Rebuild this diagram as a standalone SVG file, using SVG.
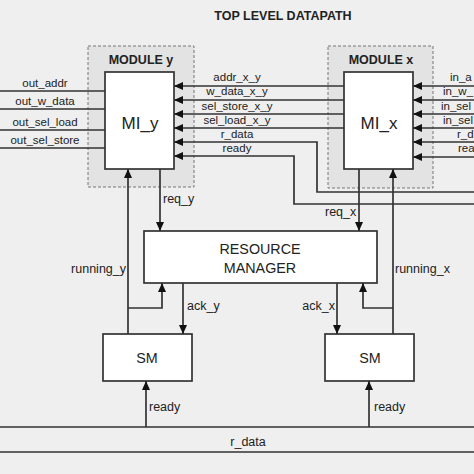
<svg xmlns="http://www.w3.org/2000/svg" width="474" height="474" viewBox="0 0 474 474">
<style>
text{font-family:"Liberation Sans",Arial,sans-serif;fill:#222}
.t{font-size:12.5px;font-weight:bold;text-anchor:middle}
.s{font-size:11.5px;text-anchor:middle}
.r{font-size:11.5px}
.l{font-size:12.5px}
.big{font-size:17px;text-anchor:middle}
.rm{font-size:14.3px;text-anchor:middle}
.box{fill:#fff;stroke:#333;stroke-width:1.7}
.mod{fill:#e3e3e3;stroke:#777;stroke-width:1;stroke-dasharray:3,2}
.w{fill:none;stroke:#333;stroke-width:1.7}
.a{marker-end:url(#ah)}
</style>
<defs>
<marker id="ah" markerUnits="userSpaceOnUse" markerWidth="9" markerHeight="8" refX="9" refY="4" orient="auto">
<path d="M0,0 L9,4 L0,8 z" fill="#111"/>
</marker>
</defs>
<rect width="474" height="474" fill="#efefef"/>
<text class="t" x="283" y="20">TOP LEVEL DATAPATH</text>

<g id="module-y">
<rect class="mod" x="88" y="46" width="106" height="141"/>
<text class="t" x="141" y="64">MODULE y</text>
<g id="mi-y"><rect class="box" x="105" y="72" width="69" height="97"/><text class="big" x="140" y="129">MI_y</text></g>
</g>
<g id="module-x">
<rect class="mod" x="328" y="46" width="105" height="142"/>
<text class="t" x="381" y="64">MODULE x</text>
<g id="mi-x"><rect class="box" x="344" y="72" width="69" height="97"/><text class="big" x="379" y="129">MI_x</text></g>
</g>
<g id="resource-manager">
<rect class="box" x="144" y="231" width="233" height="52"/>
<text class="rm" x="260" y="254">RESOURCE</text>
<text class="rm" x="260" y="273">MANAGER</text>
</g>
<g id="sm-y"><rect class="box" x="103" y="334" width="89" height="47"/><text class="rm" x="147" y="363">SM</text></g>
<g id="sm-x"><rect class="box" x="325" y="334" width="89" height="47"/><text class="rm" x="370" y="363">SM</text></g>

<g id="connectors">
<path class="w" d="M0,91H105M0,109H105M0,130H105M0,148H105"/>
<path class="w a" d="M344,86H174"/>
<path class="w a" d="M344,100H174"/>
<path class="w a" d="M344,114H174"/>
<path class="w a" d="M344,128H174"/>
<path class="w a" d="M474,192H317V142H174"/>
<path class="w a" d="M474,204H294V156H174"/>
<path class="w a" d="M474,86H413"/>
<path class="w a" d="M474,100H413"/>
<path class="w a" d="M474,114H413"/>
<path class="w a" d="M474,128H413"/>
<path class="w a" d="M474,142H413"/>
<path class="w a" d="M474,157H413"/>
<path class="w a" d="M160,169V231"/>
<path class="w a" d="M128,334V169"/>
<path class="w a" d="M128,308H162V283"/>
<path class="w a" d="M183,283V334"/>
<path class="w a" d="M359,169V231"/>
<path class="w a" d="M393,334V169"/>
<path class="w a" d="M393,308H363V283"/>
<path class="w a" d="M337,283V334"/>
<path class="w a" d="M146,427V381"/>
<path class="w a" d="M369,427V381"/>
<path class="w" d="M0,427H474M0,452H474"/>

<g id="labels">
<text class="s" x="45" y="87">out_addr</text>
<text class="s" x="45" y="105">out_w_data</text>
<text class="s" x="45" y="126">out_sel_load</text>
<text class="s" x="45" y="144">out_sel_store</text>
<text class="s" x="237" y="81">addr_x_y</text>
<text class="s" x="237" y="95">w_data_x_y</text>
<text class="s" x="237" y="110">sel_store_x_y</text>
<text class="s" x="237" y="124">sel_load_x_y</text>
<text class="s" x="237" y="138">r_data</text>
<text class="s" x="237" y="152">ready</text>
<text class="r" x="450" y="81">in_a</text>
<text class="r" x="443" y="95">in_w_</text>
<text class="r" x="441" y="110">in_sel</text>
<text class="r" x="443" y="124">in_sel</text>
<text class="r" x="457" y="138">r_d</text>
<text class="r" x="458" y="152">rea</text>
<text class="l" x="163" y="203">req_y</text>
<text class="l" x="325" y="216">req_x</text>
<text class="l" x="126" y="273" text-anchor="end">running_y</text>
<text class="l" x="395" y="273">running_x</text>
<text class="l" x="187" y="310">ack_y</text>
<text class="l" x="335" y="310" text-anchor="end">ack_x</text>
<text class="l" x="149" y="411">ready</text>
<text class="l" x="374" y="411">ready</text>
<text class="l" x="248" y="446" text-anchor="middle">r_data</text>
</g>
</g>
</svg>
